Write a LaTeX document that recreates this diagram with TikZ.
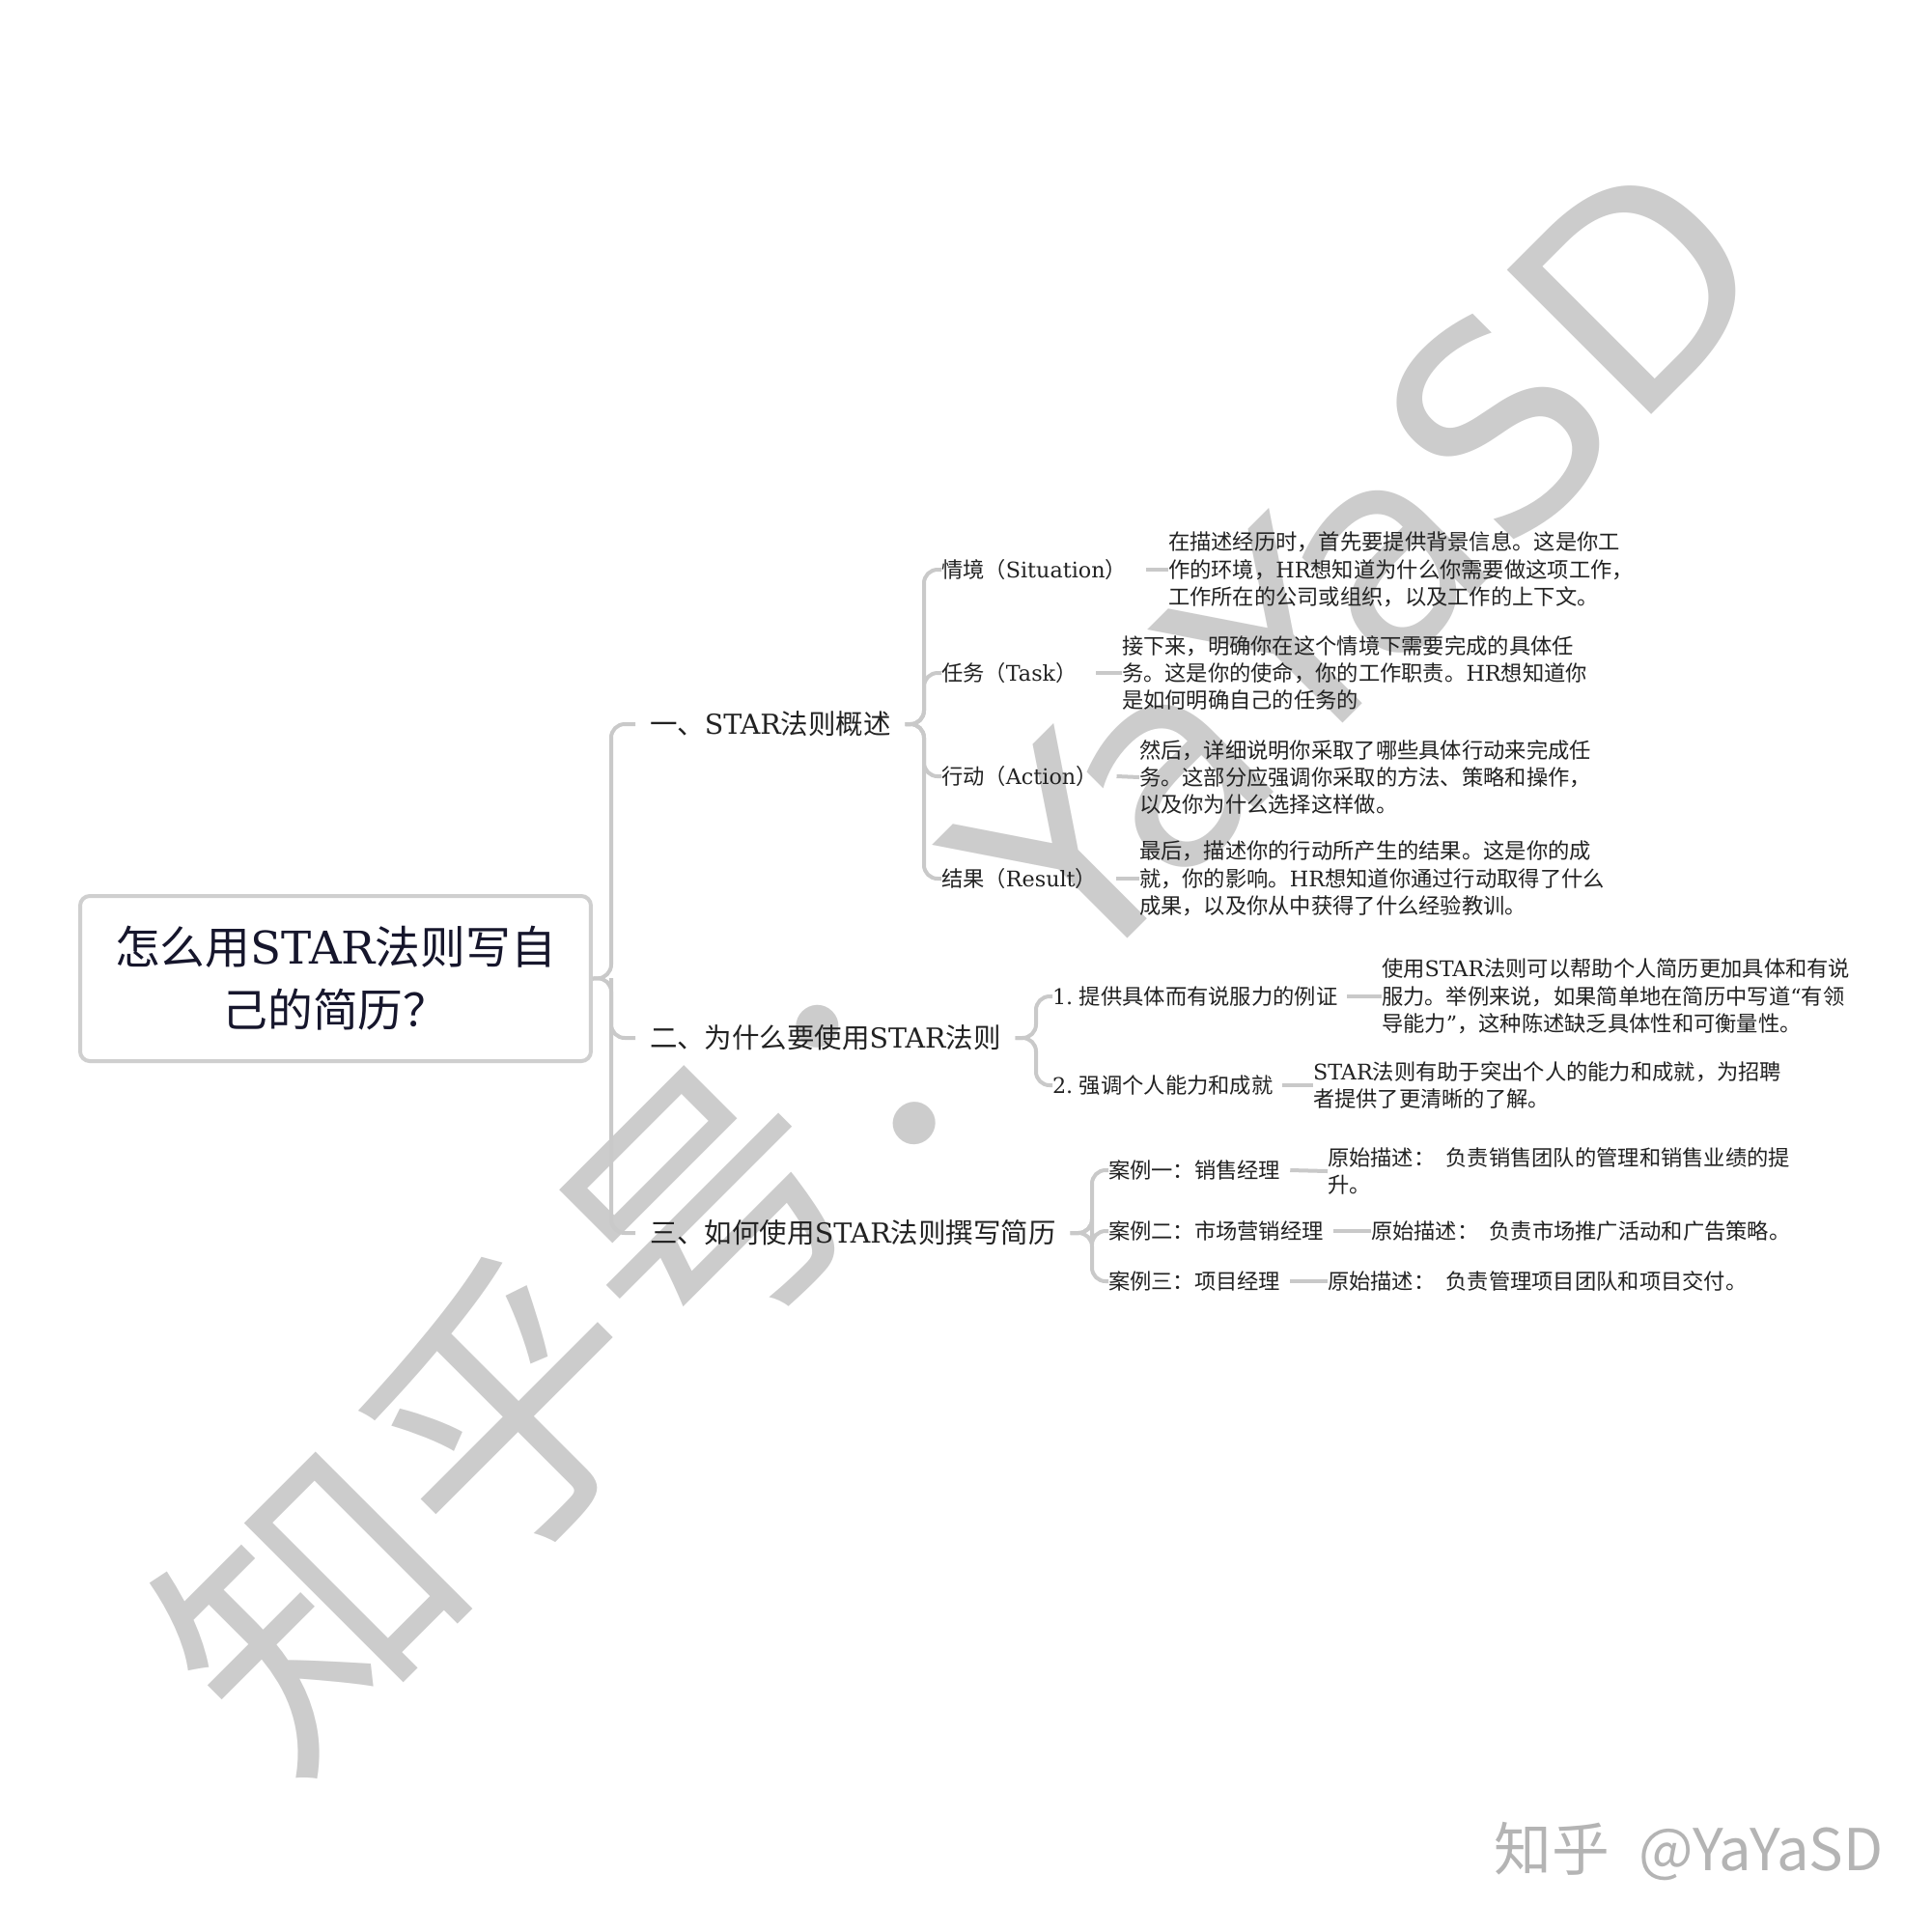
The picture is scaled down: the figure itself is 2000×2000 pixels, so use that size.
\documentclass[tikz,border=0pt]{standalone}
\usepackage{fontspec}
\setmainfont{Noto Sans CJK SC}
\newfontfamily\enf{DejaVu Serif}
\newfontfamily\wmlatin{DejaVu Sans}
\usetikzlibrary{positioning}

\definecolor{linkgray}{HTML}{C9C9C9}
\definecolor{boxgray}{HTML}{CFCFCF}
\definecolor{wmgray}{HTML}{CCCCCC}
\definecolor{siggray}{HTML}{B4B4B4}
\definecolor{inkdark}{HTML}{222222}
\definecolor{rootink}{HTML}{16162C}
\newcommand{\en}[1]{{\enf #1}}

\tikzset{
    mapline/.style={draw=linkgray, line width=0.4mm, rounded corners=1.4mm},
    rootbox/.style={draw=boxgray, line width=0.4mm, rounded corners=1mm,
        minimum width=52.9mm, minimum height=17.1mm, inner sep=0pt,
        align=center, text=rootink, font=\fontsize{13.3}{18.5}\selectfont},
    topic/.style={anchor=west, inner sep=0pt, outer xsep=1.5mm, outer ysep=0pt,
        text=inkdark, font=\fontsize{8.1}{10}\selectfont},
    subtopic/.style={anchor=west, inner sep=0pt, outer sep=0pt,
        text=inkdark, font=\fontsize{6.34}{8.1}\selectfont},
    detail/.style={subtopic, align=left},
    wmark/.style={inner sep=0pt, text=wmgray, font=\fontsize{82.5}{90}\selectfont}
}

\begin{document}
\begin{tikzpicture}[x=0.1mm, y=-0.1mm]
    \useasboundingbox (0,0) rectangle (2000,2000);
    \fill[white] (0,0) rectangle (2000,2000);
    % Watermarks
    \node[wmark, anchor=base east, rotate=45] (wm) at (1849,291) {知乎号：{\wmlatin YaYaSD}};
    \node[anchor=west, inner sep=0pt, text=siggray, font=\fontsize{17}{20}\selectfont] (sig) at (1547,1918) {知乎\hspace{0.5em}@YaYaSD};
    % Root
    \node[rootbox] (root) at (347.5,1013.5) {怎么用\en{STAR}法则写自\\己的简历？};
    \coordinate (hub) at (633,1013);
    % Topics
    \node[topic] (ovw) at (658,750) {一、\en{STAR}法则概述};
    \node[topic] (why) at (658,1075) {二、为什么要使用\en{STAR}法则};
    \node[topic] (how) at (658,1277) {三、如何使用\en{STAR}法则撰写简历};
    \draw[mapline] (root.east) -- (hub) |- (ovw.west);
    \draw[mapline] (hub) |- (why.west);
    \draw[mapline] (root.east) -- (hub) |- (how.west);
    % Overview
    \coordinate (hubA) at (957,750);
    \node[subtopic] (sit) at (975,590) {情境（\en{Situation}）};
    \node[subtopic] (tsk) at (975,697) {任务（\en{Task}）};
    \node[subtopic] (act) at (975,804) {行动（\en{Action}）};
    \node[subtopic] (res) at (975,910) {结果（\en{Result}）};
    \foreach \n in {sit,tsk,act,res}
        \draw[mapline] (ovw.east) -- (hubA) |- (\n.west);
    \node[detail] (sitd) at (1210,590) {在描述经历时，首先要提供背景信息。这是你工\\作的环境，\en{HR}想知道为什么你需要做这项工作，\\工作所在的公司或组织，以及工作的上下文。};
    \node[detail] (tskd) at (1162,697) {接下来，明确你在这个情境下需要完成的具体任\\务。这是你的使命，你的工作职责。\en{HR}想知道你\\是如何明确自己的任务的};
    \node[detail] (actd) at (1180,805) {然后，详细说明你采取了哪些具体行动来完成任\\务。这部分应强调你采取的方法、策略和操作，\\以及你为什么选择这样做。};
    \node[detail] (resd) at (1180,910) {最后，描述你的行动所产生的结果。这是你的成\\就，你的影响。\en{HR}想知道你通过行动取得了什么\\成果，以及你从中获得了什么经验教训。};
    \foreach \n in {sit,tsk,act,res}
        \draw[mapline] ([xshift=2mm]\n.east) -- (\n d.west);
    % Why
    \coordinate (hubB) at (1073,1075);
    \node[subtopic] (prf) at (1090,1032) {\en{1.} 提供具体而有说服力的例证};
    \node[subtopic] (abl) at (1090,1124) {\en{2.} 强调个人能力和成就};
    \foreach \n in {prf,abl}
        \draw[mapline] (why.east) -- (hubB) |- (\n.west);
    \node[detail] (prfd) at (1431,1032) {使用\en{STAR}法则可以帮助个人简历更加具体和有说\\服力。举例来说，如果简单地在简历中写道\en{“}有领\\导能力\en{”}，这种陈述缺乏具体性和可衡量性。};
    \node[detail] (abld) at (1360,1124) {\en{STAR}法则有助于突出个人的能力和成就，为招聘\\者提供了更清晰的了解。};
    \foreach \n in {prf,abl}
        \draw[mapline] ([xshift=1mm]\n.east) -- (\n d.west);
    % How
    \coordinate (hubC) at (1131,1277);
    \node[subtopic] (csa) at (1148,1212) {案例一：销售经理};
    \node[subtopic] (csb) at (1148,1275) {案例二：市场营销经理};
    \node[subtopic] (csc) at (1148,1327) {案例三：项目经理};
    \foreach \n in {csa,csb,csc}
        \draw[mapline] (how.east) -- (hubC) |- (\n.west);
    \node[detail] (csad) at (1375,1213) {原始描述：\hspace{0.5em}负责销售团队的管理和销售业绩的提\\升。};
    \node[detail] (csbd) at (1420,1275) {原始描述：\hspace{0.5em}负责市场推广活动和广告策略。};
    \node[detail] (cscd) at (1375,1327) {原始描述：\hspace{0.5em}负责管理项目团队和项目交付。};
    \foreach \n in {csa,csb,csc}
        \draw[mapline] ([xshift=1mm]\n.east) -- (\n d.west);
\end{tikzpicture}
\end{document}
